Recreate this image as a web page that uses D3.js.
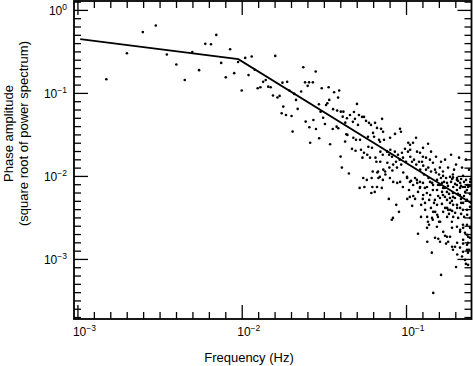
<!DOCTYPE html>
<html><head><meta charset="utf-8">
<script src="https://cdn.jsdelivr.net/npm/d3@7"></script>
<style>
html,body{margin:0;padding:0;background:#fff;}
svg{display:block;font-family:"Liberation Sans",Arial,Helvetica,sans-serif;}
</style></head><body>
<svg id="chart" width="474" height="366"></svg>
<script>
// ---- data: [frequency (Hz), phase amplitude] ----
const pointsLow = [
[0.0015,0.146],[0.002,0.30],[0.0025,0.54],[0.003,0.65],[0.0035,0.29],[0.004,0.22],[0.0045,0.143],[0.005,0.31],
[0.0055,0.188],[0.006,0.39],[0.0065,0.385],[0.007,0.50],[0.0075,0.23],[0.008,0.154],[0.0085,0.336],[0.009,0.173],
[0.0095,0.236],[0.01,0.107],[0.0105,0.264],[0.011,0.164],[0.0115,0.274],[0.012,0.19],[0.0125,0.114],[0.013,0.117],
[0.0135,0.136],[0.014,0.143],[0.0145,0.119],[0.015,0.117],[0.0155,0.093],[0.016,0.279],[0.0165,0.088],[0.017,0.092],
[0.0175,0.057]
];
const pointsMid = [
[0.0177,0.133],[0.0179,0.0684],[0.0186,0.0543],[0.0189,0.136],[0.0195,0.107],[0.0201,0.0528],[0.0204,0.0342],
[0.0209,0.0973],[0.0214,0.0824],[0.0219,0.0642],[0.0230,0.104],[0.0237,0.204],[0.0243,0.134],[0.0245,0.0451],
[0.0252,0.1216],[0.0257,0.134],[0.0258,0.0386],[0.0261,0.0251],[0.0271,0.134],[0.0273,0.0472],[0.0282,0.181],
[0.0283,0.0368],[0.0295,0.073],[0.0296,0.0284],[0.0302,0.0595],[0.0307,0.114],[0.0313,0.0503],[0.0321,0.0423],
[0.0326,0.0716],[0.0332,0.0751],[0.0338,0.117],[0.0341,0.0824],[0.0345,0.0241],[0.0358,0.0368],[0.0360,0.0637],
[0.0365,0.102],[0.0378,0.0392],[0.0381,0.0612],[0.0387,0.0375],[0.0386,0.0878],[0.0392,0.107],[0.0400,0.0171],
[0.0401,0.0595],[0.0412,0.0518],[0.0416,0.0595],[0.0427,0.0438],[0.0426,0.0259],[0.0433,0.0318],[0.0437,0.0496],
[0.0482,0.0590],[0.0456,0.0543],[0.0503,0.0737],[0.0517,0.0543],[0.0540,0.0514],[0.0555,0.0514],[0.0489,0.0487],
[0.0571,0.0460],[0.0475,0.0448],[0.0510,0.0412],[0.0595,0.0436],[0.0612,0.0412],[0.0648,0.0436],[0.0715,0.0487],
[0.0666,0.0379],[0.0705,0.0369],[0.0630,0.0330],[0.0440,0.0312],[0.0478,0.0288],[0.0496,0.0272],[0.0525,0.0272],
[0.0587,0.0296],[0.0639,0.0296],[0.0685,0.0272],[0.0695,0.0258],[0.0735,0.0272],[0.0725,0.0340],[0.0800,0.0288],
[0.0857,0.0321],[0.0919,0.0369],[0.0932,0.0340],[0.0469,0.0212],[0.0493,0.0201],[0.0532,0.0207],[0.0543,0.0166],
[0.0555,0.0190],[0.0590,0.0224],[0.0621,0.0218],[0.0604,0.0166],[0.0652,0.0166],[0.0660,0.0148],[0.0698,0.0196],
[0.0722,0.0180],[0.0767,0.0196],[0.0789,0.0180],[0.0803,0.0207],[0.0822,0.0170],[0.0855,0.0196],[0.0869,0.0148],
[0.0894,0.0180],[0.0915,0.0157],[0.0945,0.0190],[0.0959,0.0166],[0.1000,0.0148],[0.0986,0.0212],[0.0935,0.0137],
[0.0881,0.0126],[0.0792,0.0126],[0.0826,0.0116],[0.0728,0.0119],[0.0746,0.0113],[0.0676,0.0113],[0.0693,0.00973],
[0.0627,0.0113],[0.0618,0.00946],[0.0407,0.0126],[0.0449,0.0107],[0.0522,0.00717],[0.0558,0.00737],[0.0666,0.00737],
[0.0712,0.00717]
];
const pointsHigh = [
[0.1028,0.0196],[0.1032,0.0251],[0.1058,0.0237],[0.1103,0.0251],[0.1151,0.0288],[0.1062,0.0170],[0.1088,0.0148],
[0.1119,0.0157],[0.1155,0.0137],[0.1167,0.0196],[0.1217,0.0190],[0.1269,0.0218],[0.1362,0.0244],
[0.1252,0.0148],[0.1273,0.0133],[0.1324,0.0119],[0.1366,0.0126],[0.1420,0.0113],[0.1502,0.0119],[0.1523,0.0110],
[0.1589,0.0104],[0.1681,0.0100],[0.1753,0.00946],[0.1854,0.00973],[0.1933,0.00960],[0.2045,0.00946],[0.2163,0.00920],
[0.2224,0.0100],[0.2320,0.00895],[0.2470,0.00920],[0.1220,0.0119],[0.1287,0.0104],[0.1370,0.00946],[0.1400,0.00847],
[0.1461,0.00779],[0.1545,0.00895],[0.1567,0.00779],[0.1657,0.00824],[0.1728,0.00717],[0.1777,0.00824],[0.1880,0.00847],
[0.1940,0.00737],[0.2040,0.00779],[0.2133,0.00717],[0.2287,0.00737],[0.2386,0.00779],[0.0962,0.0110],[0.1014,0.00973],
[0.1073,0.00871],[0.1135,0.00946],[0.1170,0.00824],[0.1214,0.00717],
[0.0624,0.00737],[0.0615,0.00624],[0.0645,0.00642],[0.0786,0.00529],[0.0872,0.00448],[0.0906,0.00369],[0.0833,0.00312],
[0.0819,0.00296],[0.1018,0.00529],[0.1055,0.00559],[0.1107,0.00574],[0.1183,0.00201],[0.1234,0.00321],[0.1265,0.00529],
[0.1306,0.00473],[0.1343,0.00237],[0.1347,0.00161],[0.1381,0.00258],[0.1440,0.00312],[0.1455,0.00296],[0.1502,0.00180],
[0.1572,0.00175],[0.1436,0.00119],[0.1505,0.00369],[0.1565,0.00321],[0.1589,0.00280],[0.1634,0.000642],[0.1465,0.000390],
[0.1611,0.00161],[0.1753,0.00153],[0.1685,0.00212],[0.1728,0.00190],[0.1854,0.00185],[0.1906,0.00237],[0.1988,0.00140],
[0.2016,0.000801],[0.2050,0.00113],[0.2315,0.000871],[0.2224,0.00122],[0.2133,0.00212],[0.2228,0.00237],[0.2352,0.00258],
[0.2453,0.00237],[0.1780,0.00412],[0.1858,0.00390],[0.1936,0.00448],[0.2048,0.00412],[0.2166,0.00473],[0.2220,0.00390],
[0.1611,0.00543],[0.1678,0.00590],[0.1774,0.00642],[0.1851,0.00543],[0.1930,0.00624],[0.2042,0.00678],[0.2130,0.00590],
[0.2290,0.00642],[0.2390,0.00737],[0.1403,0.00590],[0.1458,0.00678],[0.1499,0.00514],[0.1545,0.00448],[0.1219,0.00737],
[0.1303,0.00717],[0.1340,0.00624],[0.1272,0.00590],[0.2355,0.00196],[0.2450,0.00180],[0.2383,0.00157],[0.2226,0.00153],
[0.2419,0.00129],[0.2350,0.00129],[0.1683,0.00369],[0.1779,0.00321],[0.1803,0.00390],[0.1903,0.00280],[0.1938,0.00321],
[0.2043,0.00244],[0.2136,0.00224],[0.2222,0.00258],[0.2285,0.00207],[0.2388,0.00185],[0.1614,0.00280],[0.1542,0.00244],
[0.1345,0.00321],[0.1360,0.00280],[0.1463,0.00369],[0.1548,0.00340],[0.1775,0.00185],[0.1805,0.00161],[0.1908,0.00140],
[0.1931,0.00129],[0.2047,0.00157],[0.2131,0.00137],[0.2227,0.00170],[0.2353,0.00148],[0.2384,0.00119],[0.2193,0.00107],
[0.2289,0.000973],[0.2387,0.000847],[0.1776,0.00514],[0.1853,0.00473],[0.1932,0.00559],[0.2044,0.00448],[0.2134,0.00412],
[0.2223,0.00473],[0.2351,0.00390],[0.2451,0.00424],[0.1216,0.00847],[0.1268,0.00824],[0.1342,0.00737],[0.1442,0.00824],
[0.1544,0.00678],[0.1610,0.00779],[0.1680,0.00717],[0.1016,0.00946],[0.1056,0.00847],[0.1105,0.00779],[0.1165,0.00895],
[0.0921,0.00847],[0.0957,0.00737],[0.0679,0.00946],[0.0723,0.00895],[0.0749,0.0104],[0.0798,0.00946],[0.0836,0.00847],
[0.0884,0.00824],[0.0549,0.00946],[0.0577,0.00895],[0.0669,0.0110],[0.0581,0.0180],[0.0697,0.0148],[0.0770,0.0144],
[0.0835,0.0137],[0.1060,0.0207],[0.1267,0.0170],[0.1398,0.0157],[0.1459,0.0144],[0.1608,0.0126],[0.1679,0.0113],
[0.1929,0.0104],[0.2041,0.00895],[0.2135,0.00824],[0.2221,0.00737],[0.2354,0.00779],[0.2455,0.00847],
[0.1728,0.0157],[0.1880,0.0180],[0.2016,0.0137],[0.2103,0.0166],[0.2193,0.0126],[0.2320,0.0157],[0.2419,0.0119],
[0.1803,0.0126],[0.1961,0.0119],[0.1634,0.0148],[0.1523,0.0170],[0.1420,0.0196],[0.1324,0.0166],[0.1200,0.0148],
[0.1632,0.00946],[0.1704,0.00847],[0.1800,0.00758],[0.1909,0.00920],[0.1988,0.00801],[0.2074,0.00871],[0.2160,0.00758],
[0.2256,0.00847],[0.2348,0.00678],[0.2458,0.00758],[0.1657,0.00642],[0.1726,0.00559],[0.1828,0.00607],[0.1904,0.00500],
[0.1985,0.00543],[0.2071,0.00607],[0.2161,0.00529],[0.2253,0.00574],[0.2349,0.00514],[0.2452,0.00607],[0.1655,0.00460],
[0.1730,0.00412],[0.1826,0.00349],[0.1910,0.00379],[0.1990,0.00359],[0.2076,0.00312],[0.2165,0.00349],[0.2258,0.00321],
[0.2356,0.00340],[0.2456,0.00312],[0.1569,0.00574],[0.1481,0.00473],[0.1418,0.00412],[0.1383,0.00514],[0.1308,0.00390],
[0.1236,0.00448],[0.1183,0.00642],[0.1135,0.00529],[0.1090,0.00436],[0.1043,0.00678]
];
// broken power-law fit
const fitFrequency = [0.00104, 0.00954, 0.25];
const fitAmplitude = [0.444, 0.255, 0.0047];
// axes
const xMajorTicks = [0.001, 0.01, 0.1];
const xTickExponents = ["\u22123", "\u22122", "\u22121"];
const yMajorTicks = [1, 0.1, 0.01, 0.001];
const yTickExponents = ["0", "\u22121", "\u22122", "\u22123"];
const xTitle = "Frequency (Hz)";
const yTitleLines = ["Phase amplitude", "(square root of power spectrum)"];

// ---- drawing ----
const svg = d3.select("#chart");
const L = 74, R = 471.5, T = 1, B = 319;
const x = d3.scaleLog().domain([0.000953, 0.2504]).range([L, R]);
const y = d3.scaleLog().domain([0.000189, 1.28]).range([B, T]);

function minorTicks(scale) {
  const [a, b] = scale.domain();
  const out = [];
  for (let e = Math.floor(Math.log10(a)) - 1; e <= Math.ceil(Math.log10(b)); e++) {
    for (let k = 1; k < 10; k++) {
      const v = Math.pow(10, e + k / 10);
      if (v >= a && v <= b) out.push(v);
    }
  }
  return out;
}
const xMinor = minorTicks(x), yMinor = minorTicks(y);
const minorLen = 7, majorLen = 14;

function drawAxis(axisFn, scale, vals, len, transform) {
  const g = svg.append("g").attr("transform", transform)
    .call(axisFn(scale).tickValues(vals).tickSize(-len).tickSizeOuter(0).tickFormat(() => ""));
  g.select(".domain").remove();
  g.selectAll("line").attr("stroke", "#000").attr("stroke-width", 1.3);
  g.selectAll("text").remove();
}
drawAxis(d3.axisBottom, x, xMinor, minorLen, `translate(0,${B})`);
drawAxis(d3.axisBottom, x, xMajorTicks, majorLen, `translate(0,${B})`);
drawAxis(d3.axisTop, x, xMinor, minorLen, `translate(0,${T})`);
drawAxis(d3.axisTop, x, xMajorTicks, majorLen, `translate(0,${T})`);
drawAxis(d3.axisLeft, y, yMinor, minorLen, `translate(${L},0)`);
drawAxis(d3.axisLeft, y, yMajorTicks, majorLen, `translate(${L},0)`);
drawAxis(d3.axisRight, y, yMinor, minorLen, `translate(${R},0)`);
drawAxis(d3.axisRight, y, yMajorTicks, majorLen, `translate(${R},0)`);

svg.append("rect").attr("x", L).attr("y", T).attr("width", R - L).attr("height", B - T)
  .attr("fill", "none").attr("stroke", "#000").attr("stroke-width", 1.8);

// tick labels
xMajorTicks.forEach((v, i) => {
  const t = svg.append("text").attr("x", x(v) - 4.5).attr("y", 336)
    .attr("font-size", 12).attr("fill", "#000");
  t.append("tspan").text("10");
  t.append("tspan").attr("font-size", 8.5).attr("dy", -5).text(xTickExponents[i]);
});
yMajorTicks.forEach((v, i) => {
  const t = svg.append("text").attr("x", 67).attr("y", y(v) + 5)
    .attr("text-anchor", "end").attr("font-size", 12).attr("fill", "#000");
  t.append("tspan").text("10");
  t.append("tspan").attr("font-size", 8.5).attr("dy", -5).text(yTickExponents[i]);
});

// titles
svg.append("text").attr("x", 249).attr("y", 362).attr("text-anchor", "middle")
  .attr("font-size", 13).text(xTitle);
yTitleLines.forEach((s, i) => {
  svg.append("text").attr("transform", `translate(${12.5 + i * 15.3},133.5) rotate(-90)`)
    .attr("text-anchor", "middle").attr("font-size", 13).text(s);
});

// points
const clip = svg.append("clipPath").attr("id", "plotclip").append("rect")
  .attr("x", L).attr("y", T).attr("width", R - L).attr("height", B - T);
const allPoints = pointsLow.concat(pointsMid, pointsHigh);
svg.append("g").attr("clip-path", "url(#plotclip)").selectAll("circle").data(allPoints).join("circle")
  .attr("cx", d => x(d[0])).attr("cy", d => y(d[1])).attr("r", 1.3).attr("fill", "#000");

// fit line
const fit = fitFrequency.map((f, i) => [f, fitAmplitude[i]]);
svg.append("path").datum(fit)
  .attr("d", d3.line().x(d => x(d[0])).y(d => y(d[1])))
  .attr("fill", "none").attr("stroke", "#000").attr("stroke-width", 1.8);
</script>
</body></html>
